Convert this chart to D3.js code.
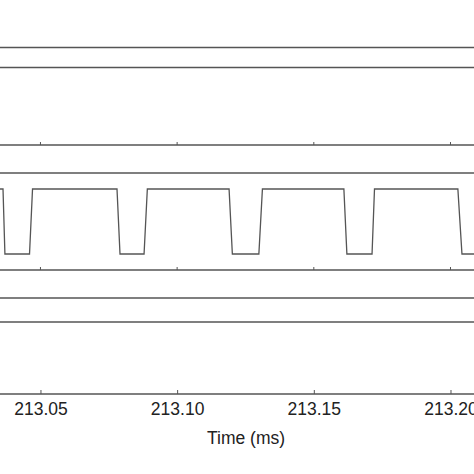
<!DOCTYPE html>
<html><head><meta charset="utf-8">
<script src="https://cdn.jsdelivr.net/npm/d3@7"></script>
<style>body{margin:0;background:#fff}</style>
</head><body><svg id="c" width="474" height="474"></svg>
<script>
// square wave samples (time in ms, level 0/1)
var waveT = [213.0352,213.0363,213.0370,213.0460,213.0471,213.0780,213.0791,213.0879,213.0891,
  213.1190,213.1202,213.1299,213.1312,213.1610,213.1621,213.1713,213.1722,213.2027,213.2042,213.2086];
var waveV = [1,1,0,0,1,1,0,0,1,1,0,0,1,1,0,0,1,1,0,0];
var tickVals = [213.05,213.10,213.15,213.20];
var tickLabels = ["213.05","213.10","213.15","213.20"];

var svg = d3.select("#c");
var col = "#555";
var font = "Arial, 'Liberation Sans', sans-serif";
var x = d3.scaleLinear().domain([213.0352,213.2086]).range([0,474]);

// horizontal rules / flat traces: [y, tick direction]
var rules = [[47.5,0],[67.5,0],[145,-1],[173,0],[270,-1],[298,0],[322,0]];
rules.forEach(function(r){
  svg.append("line").attr("x1",0).attr("x2",474).attr("y1",r[0]).attr("y2",r[0])
    .attr("stroke",col).attr("stroke-width",1.3);
  if (r[1]) tickVals.forEach(function(t){
    svg.append("line").attr("x1",x(t)).attr("x2",x(t)).attr("y1",r[0]).attr("y2",r[0]-3)
      .attr("stroke",col).attr("stroke-width",1);
  });
});

var y = d3.scaleLinear().domain([0,1]).range([254,189]);
svg.append("path").datum(d3.range(waveT.length))
  .attr("fill","none").attr("stroke",col).attr("stroke-width",1.3)
  .attr("d", d3.line().x(function(i){return x(waveT[i]);}).y(function(i){return y(waveV[i]);}));

var ax = svg.append("g").attr("transform","translate(0,394)")
  .call(d3.axisBottom(x).tickValues(tickVals).tickSize(-4)
    .tickFormat(function(d,i){return tickLabels[i];}).tickPadding(9));
ax.select(".domain").attr("stroke",col).attr("stroke-width",1.3).attr("d","M0,0H474");
ax.selectAll(".tick line").attr("stroke",col);
ax.selectAll("text").attr("font-family",font).attr("font-size",17.5).attr("fill","#222");
svg.append("text").attr("x",x(213.1252)).attr("y",444).attr("text-anchor","middle")
  .attr("font-family",font).attr("font-size",17.5).attr("fill","#222").text("Time (ms)");
</script></body></html>
